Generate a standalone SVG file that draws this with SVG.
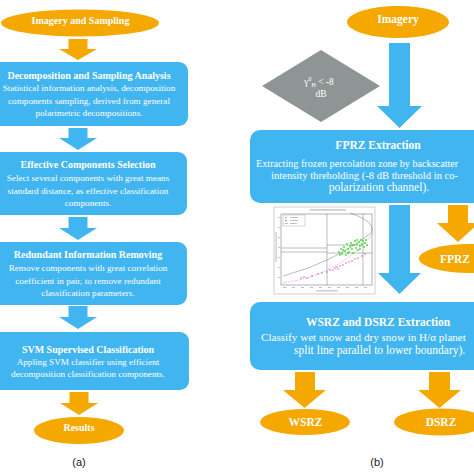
<svg xmlns="http://www.w3.org/2000/svg" width="474" height="474" viewBox="0 0 474 474">
<style>
.box{fill:#41b5ef}
.oval{fill:#f5a800}
.arB{fill:#41b5ef}
.arO{fill:#f5a800}
text{font-family:"Liberation Serif","Times New Roman",serif;fill:#ffffff}
.tl{font-size:10px;font-weight:bold;text-anchor:middle}
.bl{font-size:9.2px;text-anchor:middle}
.tr{font-size:11.5px;font-weight:bold;text-anchor:middle}
.br{font-size:11.5px}
.lab{font-family:"Liberation Sans",Arial,sans-serif;font-size:11px;fill:#222;text-anchor:middle}
.g{fill:#44dd33}
.m{fill:#d040b0}
.mk{fill:#b8b8b8}
</style>
<rect width="474" height="474" fill="#ffffff"/>

<g id="connectors">
<polygon class="arO" points="68.5,39 87.5,39 87.5,49 97,49 78,60 59,49 68.5,49"/>
<polygon class="arB" points="68.5,128 87.5,128 87.5,138 97,138 78,150 59,138 68.5,138"/>
<polygon class="arB" points="68.5,217 87.5,217 87.5,228 97,228 78,240 59,228 68.5,228"/>
<polygon class="arB" points="68.5,306 87.5,306 87.5,317 97,317 78,329 59,317 68.5,317"/>
<polygon class="arO" points="69.5,392 88.5,392 88.5,403 98,403 79,415 60,403 69.5,403"/>
<polygon class="arB" points="389,43 410,43 410,106 422,106 399.5,128 377,106 389,106"/>
<polygon class="arB" points="389,205 410,205 410,273 421,273 399.5,294 378,273 389,273"/>
<polygon class="arO" points="448,205 468,205 468,223 479,223 458,242 437,223 448,223"/>
<polygon class="arO" points="295,372 315,372 315,390 326,390 304.5,408 283,390 295,390"/>
<polygon class="arO" points="429,372 450,372 450,390 461,390 439.5,408 418,390 429,390"/>
</g>

<g id="imagery-sampling">
<ellipse class="oval" cx="80" cy="23" rx="79" ry="13.5"/>
<text class="tl" x="80.5" y="24">Imagery and Sampling</text>
</g>

<g id="decomposition">
<rect class="box" x="-28" y="62" width="216" height="64" rx="9"/>
<text class="tl" x="89" y="78.5">Decomposition and Sampling Analysis</text>
<text class="bl" x="89" y="91">Statistical information analysis, decomposition</text>
<text class="bl" x="89" y="103.5">components sampling, derived from general</text>
<text class="bl" x="89" y="116">polarimetric decompositions.</text>
</g>

<g id="effective">
<rect class="box" x="-28" y="152" width="215" height="63" rx="9"/>
<text class="tl" x="88" y="167.5">Effective Components Selection</text>
<text class="bl" x="88" y="181">Select several components with great means</text>
<text class="bl" x="88" y="193.5">standard distance, as effective classification</text>
<text class="bl" x="88" y="206">components.</text>
</g>

<g id="redundant">
<rect class="box" x="-28" y="242" width="215" height="63" rx="9"/>
<text class="tl" x="88" y="257.5">Redundant Information Removing</text>
<text class="bl" x="88" y="271">Remove components with great correlation</text>
<text class="bl" x="88" y="283.5">coefficient in pair, to remove redundant</text>
<text class="bl" x="88" y="296">classification parameters.</text>
</g>

<g id="svm">
<rect class="box" x="-28" y="332" width="217" height="58" rx="9"/>
<text class="tl" x="88" y="352.5">SVM Supervised Classification</text>
<text class="bl" x="88" y="364.5">Appling SVM classifier using efficient</text>
<text class="bl" x="88" y="377">decomposition classification components.</text>
</g>

<g id="results">
<ellipse class="oval" cx="79" cy="430.5" rx="45" ry="13.5"/>
<text class="tl" x="79" y="431">Results</text>
</g>

<text class="lab" x="79" y="466">(a)</text>

<g id="imagery">
<ellipse class="oval" cx="398" cy="22" rx="51" ry="16"/>
<text class="tr" x="398" y="22.5">Imagery</text>
</g>

<g id="threshold">
<polygon points="262,86 321,50 380,86 321,122" fill="#8f9595"/>
<text x="319" y="85" font-size="9.5" text-anchor="middle">γ<tspan font-size="6" dy="-4">0</tspan><tspan font-size="6" dy="6">H</tspan><tspan dy="-2"> &lt; -8</tspan></text>
<text x="321" y="96.5" font-size="9.5" text-anchor="middle">dB</text>
</g>

<g id="fprz-extraction">
<rect class="box" x="250" y="130" width="262" height="73" rx="10"/>
<text class="tr" x="378" y="149">FPRZ Extraction</text>
<text class="br" x="256" y="166.5" style="font-size:10.2px">Extracting frozen percolation zone by backscatter</text>
<text class="br" x="271" y="178.5" style="font-size:10.6px">intensity threholding (-8 dB threshold in co-</text>
<text class="br" x="379" y="190.5" text-anchor="middle">polarization channel).</text>
</g>

<g id="scatter-plot">
<rect x="274" y="207" width="101" height="87" fill="#ffffff" stroke="#c4c4c4" stroke-width="0.8"/>
<rect class="mk" x="310" y="209.3" width="36" height="1.2"/>
<rect x="281" y="214" width="91" height="71" fill="none" stroke="#666" stroke-width="0.5"/>
<g stroke="#777" stroke-width="0.5" fill="none">
<line x1="327" y1="214" x2="327" y2="285"/>
<line x1="363" y1="214" x2="363" y2="285"/>
<line x1="281" y1="248" x2="327" y2="248"/>
<line x1="281" y1="252" x2="327" y2="252"/>
<line x1="327" y1="245" x2="363" y2="245"/>
<line x1="327" y1="253" x2="372" y2="253"/>
<path d="M283,276 Q335,262 371,233 Q377,222 350,213"/>
</g>
<path d="M283,283 Q340,275 373,233" fill="none" stroke="#c070c0" stroke-width="0.5" stroke-dasharray="1.5,1"/>
<rect x="283" y="215" width="22" height="11" fill="#ffffff" stroke="#999" stroke-width="0.4"/>
<circle class="g" cx="286" cy="217.5" r="0.8"/>
<circle class="m" cx="286" cy="220.5" r="0.8"/>
<line x1="284.5" y1="223.5" x2="288" y2="223.5" stroke="#a070c0" stroke-width="0.5"/>
<rect class="mk" x="290" y="217" width="8" height="0.9"/>
<rect class="mk" x="290" y="220" width="8" height="0.9"/>
<rect class="mk" x="290" y="223" width="7" height="0.9"/>
<g class="mk">
<rect x="283" y="287" width="3" height="0.9"/><rect x="292" y="287" width="3" height="0.9"/><rect x="301" y="287" width="3" height="0.9"/><rect x="310" y="287" width="3" height="0.9"/><rect x="319" y="287" width="3" height="0.9"/><rect x="328" y="287" width="3" height="0.9"/><rect x="337" y="287" width="3" height="0.9"/><rect x="346" y="287" width="3" height="0.9"/><rect x="355" y="287" width="3" height="0.9"/><rect x="364" y="287" width="3" height="0.9"/>
<rect x="316" y="290.3" width="22" height="1"/>
<rect x="275.6" y="232" width="1" height="30"/>
<rect x="278" y="217" width="2" height="0.8"/><rect x="278" y="227" width="2" height="0.8"/><rect x="278" y="237" width="2" height="0.8"/><rect x="278" y="247" width="2" height="0.8"/><rect x="278" y="257" width="2" height="0.8"/><rect x="278" y="267" width="2" height="0.8"/><rect x="278" y="277" width="2" height="0.8"/>
</g>
<g class="g">
<circle cx="339" cy="252" r="0.9"/><circle cx="341" cy="249" r="0.9"/><circle cx="342" cy="254" r="0.9"/><circle cx="344" cy="247" r="0.9"/><circle cx="345" cy="251" r="0.9"/><circle cx="346" cy="255" r="0.9"/><circle cx="347" cy="244" r="0.9"/><circle cx="348" cy="249" r="0.9"/><circle cx="349" cy="252" r="0.9"/><circle cx="350" cy="246" r="0.9"/><circle cx="351" cy="243" r="0.9"/><circle cx="352" cy="249" r="0.9"/><circle cx="353" cy="253" r="0.9"/><circle cx="354" cy="245" r="0.9"/><circle cx="355" cy="241" r="0.9"/><circle cx="356" cy="248" r="0.9"/><circle cx="357" cy="244" r="0.9"/><circle cx="358" cy="250" r="0.9"/><circle cx="359" cy="242" r="0.9"/><circle cx="360" cy="246" r="0.9"/><circle cx="361" cy="240" r="0.9"/><circle cx="362" cy="244" r="0.9"/><circle cx="363" cy="241" r="0.9"/><circle cx="364" cy="247" r="0.9"/><circle cx="365" cy="243" r="0.9"/><circle cx="366" cy="240" r="0.9"/><circle cx="367" cy="245" r="0.9"/><circle cx="343" cy="250" r="0.9"/><circle cx="348" cy="253" r="0.9"/><circle cx="352" cy="245" r="0.9"/><circle cx="357" cy="240" r="0.9"/><circle cx="360" cy="249" r="0.9"/><circle cx="340" cy="255" r="0.9"/>
</g>
<g class="m">
<circle cx="301" cy="278" r="0.7"/><circle cx="304" cy="277" r="0.7"/><circle cx="307" cy="278" r="0.7"/><circle cx="312" cy="276" r="0.7"/><circle cx="318" cy="274" r="0.7"/><circle cx="322" cy="273" r="0.7"/><circle cx="327" cy="272" r="0.7"/><circle cx="330" cy="270" r="0.7"/><circle cx="333" cy="270" r="0.7"/><circle cx="335" cy="268" r="0.7"/><circle cx="337" cy="267" r="0.7"/><circle cx="338" cy="269" r="0.7"/><circle cx="340" cy="266" r="0.7"/><circle cx="343" cy="265" r="0.7"/><circle cx="346" cy="263" r="0.7"/><circle cx="349" cy="262" r="0.7"/><circle cx="352" cy="261" r="0.7"/><circle cx="355" cy="259" r="0.7"/><circle cx="358" cy="258" r="0.7"/><circle cx="362" cy="256" r="0.7"/><circle cx="365" cy="254" r="0.7"/>
</g>
</g>

<g id="fprz">
<ellipse class="oval" cx="470" cy="258.5" rx="51" ry="14.5"/>
<text class="tr" x="455" y="263">FPRZ</text>
</g>

<g id="wsrz-dsrz-extraction">
<rect class="box" x="250" y="302" width="262" height="68" rx="10"/>
<text class="tr" x="378" y="326">WSRZ and DSRZ Extraction</text>
<text class="br" x="261" y="340.5" style="font-size:11.1px">Classify wet snow and dry snow in H/α planet</text>
<text class="br" x="294" y="353.5">split line parallel to lower boundary).</text>
</g>

<g id="wsrz">
<ellipse class="oval" cx="305" cy="422" rx="45" ry="13"/>
<text class="tr" x="305.5" y="426">WSRZ</text>
</g>

<g id="dsrz">
<ellipse class="oval" cx="441" cy="422" rx="47" ry="13.5"/>
<text class="tr" x="441" y="426">DSRZ</text>
</g>

<text class="lab" x="377" y="466">(b)</text>
</svg>
